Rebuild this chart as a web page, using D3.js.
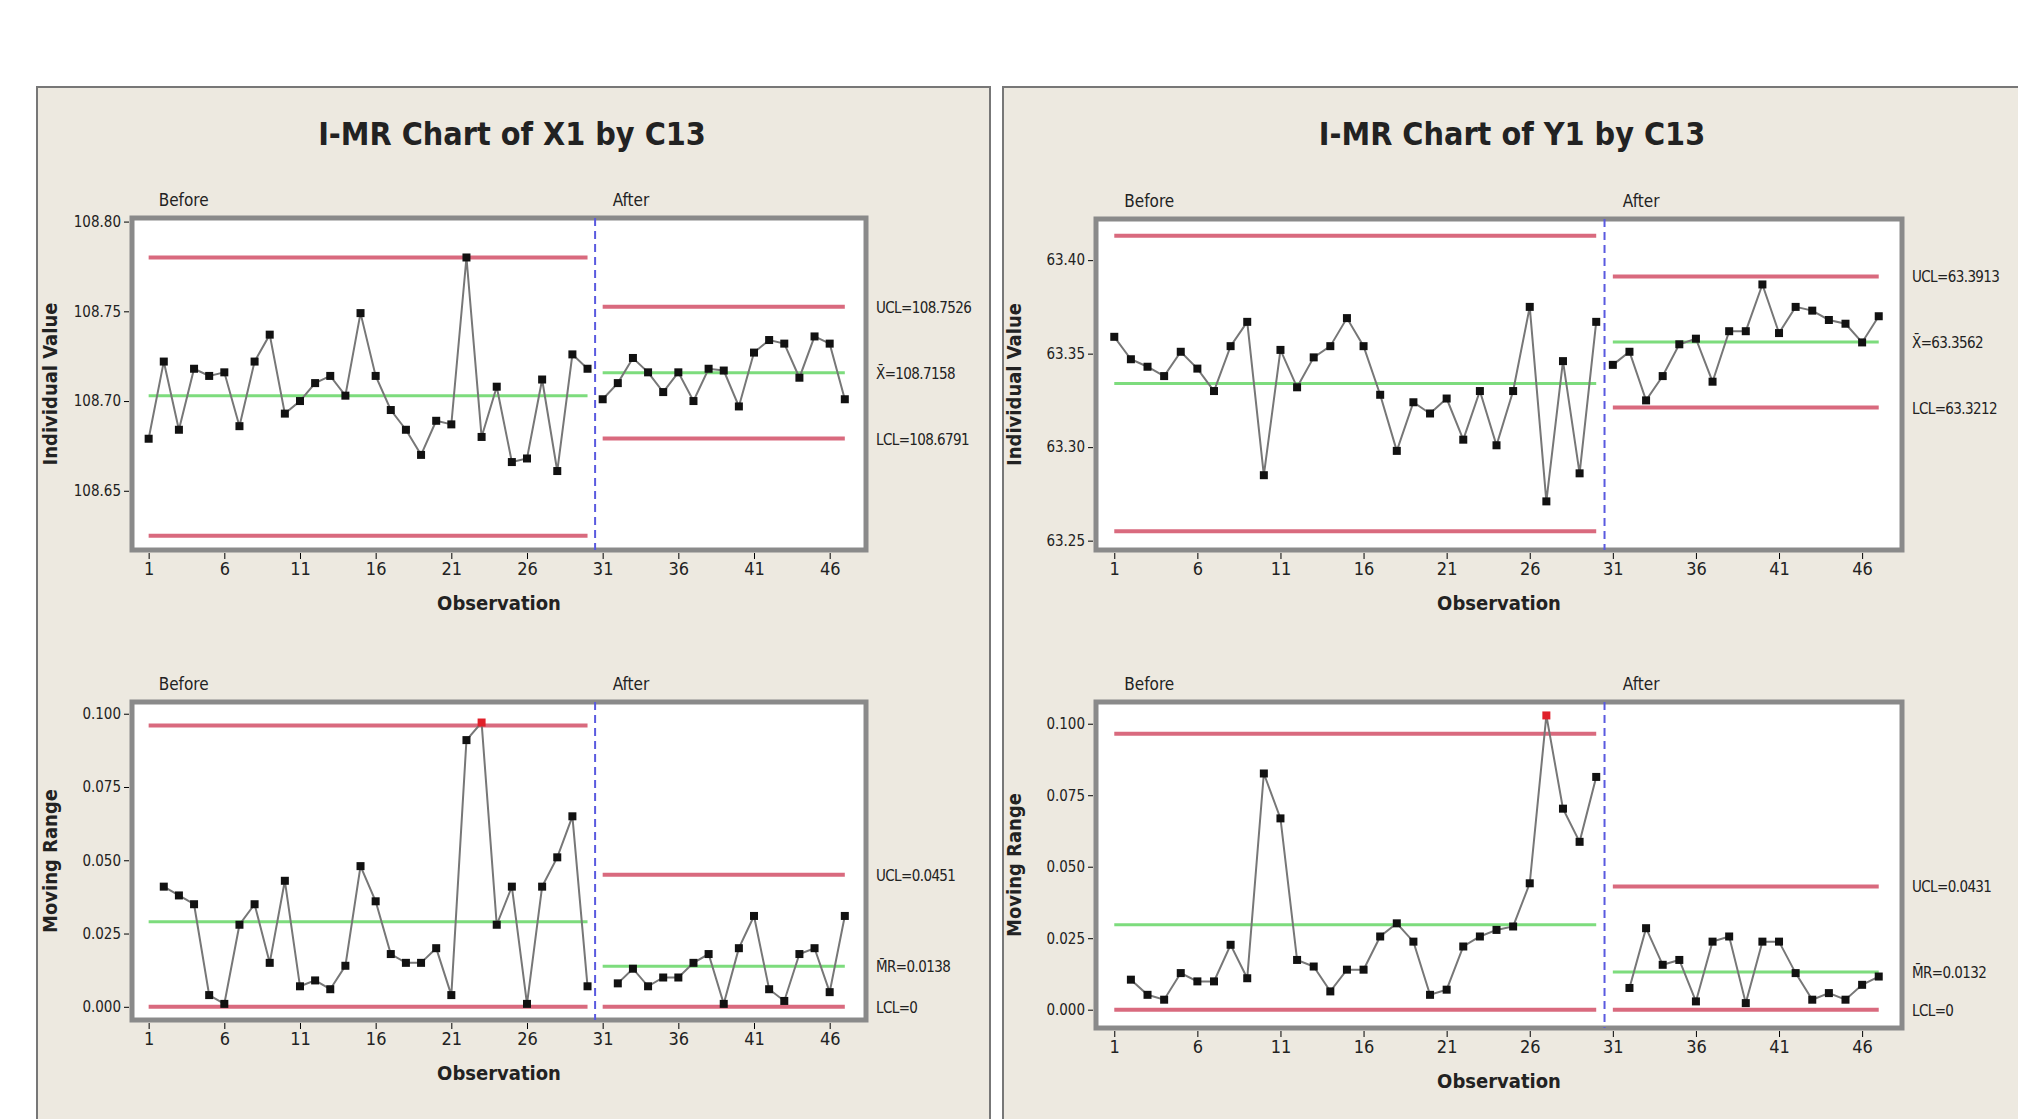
<!DOCTYPE html>
<html>
<head>
<meta charset="utf-8">
<script src="https://cdn.jsdelivr.net/npm/d3@7"></script>
<style>
  body { margin: 0; background: #fff; }
  text { font-family: "Liberation Sans Narrow", "DejaVu Sans Condensed", "Liberation Sans", sans-serif; fill: #222; }
</style>
</head>
<body>
<script>
// observations 1..47, 'Before' = 1..30, 'After' = 31..47
const obs = d3.range(1, 48)
const split = 30

const x1Values = [108.679, 108.722, 108.684, 108.718, 108.714, 108.716, 108.686, 108.722, 108.737, 108.693,
    108.700, 108.710, 108.714, 108.703, 108.749, 108.714, 108.695, 108.684, 108.670, 108.689,
    108.687, 108.780, 108.680, 108.708, 108.666, 108.668, 108.712, 108.661, 108.726, 108.718,
    108.701, 108.710, 108.724, 108.716, 108.705, 108.716, 108.700, 108.718, 108.717, 108.697,
    108.727, 108.734, 108.732, 108.713, 108.736, 108.732, 108.701]
// moving ranges start at obs 2 (null for obs 1 and 31)
const x1Ranges = [null, 0.041, 0.038, 0.035, 0.004, 0.001, 0.028, 0.035, 0.015, 0.043,
    0.007, 0.009, 0.006, 0.014, 0.048, 0.036, 0.018, 0.015, 0.015, 0.020,
    0.004, 0.091, 0.097, 0.028, 0.041, 0.001, 0.041, 0.051, 0.065, 0.007,
    null, 0.008, 0.013, 0.007, 0.010, 0.010, 0.015, 0.018, 0.001, 0.020,
    0.031, 0.006, 0.002, 0.018, 0.020, 0.005, 0.031]
const y1Values = [63.359, 63.347, 63.343, 63.338, 63.351, 63.342, 63.330, 63.354, 63.367, 63.285,
    63.352, 63.332, 63.348, 63.354, 63.369, 63.354, 63.328, 63.298, 63.324, 63.318,
    63.326, 63.304, 63.330, 63.301, 63.330, 63.375, 63.271, 63.346, 63.286, 63.367,
    63.344, 63.351, 63.325, 63.338, 63.355, 63.358, 63.335, 63.362, 63.362, 63.387,
    63.361, 63.375, 63.373, 63.368, 63.366, 63.356, 63.370]
const y1Ranges = [null, 0.0105, 0.0052, 0.0035, 0.0128, 0.0099, 0.0099, 0.0227, 0.011, 0.0826,
    0.0669, 0.0174, 0.0151, 0.0064, 0.014, 0.014, 0.0256, 0.0302, 0.0238, 0.0052,
    0.007, 0.0221, 0.0256, 0.0279, 0.0291, 0.0442, 0.1029, 0.0703, 0.0587, 0.0814,
    null, 0.0076, 0.0285, 0.0157, 0.0174, 0.0029, 0.0238, 0.0256, 0.0023, 0.0238,
    0.0238, 0.0128, 0.0035, 0.0058, 0.0035, 0.0087, 0.0116]

// control limits [LCL, CL, UCL] per stage
const x1Limits = {before: [108.625, 108.703, 108.780], after: [108.6791, 108.7158, 108.7526]}
const x1RangeLimits = {before: [0, 0.029, 0.096], after: [0, 0.0138, 0.0451]}
const y1Limits = {before: [63.255, 63.334, 63.413], after: [63.3212, 63.3562, 63.3913]}
const y1RangeLimits = {before: [0, 0.0297, 0.0965], after: [0, 0.0132, 0.0431]}

const x1Labels = ["UCL=108.7526", "X̄=108.7158", "LCL=108.6791"]
const x1RangeLabels = ["UCL=0.0451", "M̄R=0.0138", "LCL=0"]
const y1Labels = ["UCL=63.3913", "X̄=63.3562", "LCL=63.3212"]
const y1RangeLabels = ["UCL=0.0431", "M̄R=0.0132", "LCL=0"]

const xTicks = [1, 6, 11, 16, 21, 26, 31, 36, 41, 46]

const svg = d3.select("body").append("svg")
    .attr("width", 2018)
    .attr("height", 1119)

// panels
svg.append("rect").attr("x", 37).attr("y", 87).attr("width", 953).attr("height", 1040)
    .attr("fill", "#ede9e0").attr("stroke", "#777").attr("stroke-width", 2)
svg.append("rect").attr("x", 1003).attr("y", 87).attr("width", 1030).attr("height", 1040)
    .attr("fill", "#ede9e0").attr("stroke", "#777").attr("stroke-width", 2)

svg.append("text").attr("x", 512).attr("y", 145).attr("text-anchor", "middle")
    .attr("font-size", 32).attr("font-weight", "bold").text("I-MR Chart of X1 by C13")
svg.append("text").attr("x", 1512).attr("y", 145).attr("text-anchor", "middle")
    .attr("font-size", 32).attr("font-weight", "bold").text("I-MR Chart of Y1 by C13")

function drawChart(box, values, limits, labels, yDomain, yTicks, yFormat, yTitle) {
    const x = d3.scaleLinear().domain([-0.1, 48.4]).range([box.left, box.right])
    const y = d3.scaleLinear().domain(yDomain).range([box.bottom, box.top])
    const g = svg.append("g")

    g.append("rect").attr("x", box.left).attr("y", box.top)
        .attr("width", box.right - box.left).attr("height", box.bottom - box.top)
        .attr("fill", "#fff").attr("stroke", "#8a8a8a").attr("stroke-width", 5)

    const stages = [
        {key: "before", from: 1, to: split, name: "Before"},
        {key: "after", from: split + 1, to: 47, name: "After"}
    ]
    stages.forEach((s) => {
        limits[s.key].forEach((v, i) => {
            g.append("line")
                .attr("x1", x(s.from)).attr("x2", x(s.to))
                .attr("y1", y(v)).attr("y2", y(v))
                .attr("stroke", i === 1 ? "#7ddc7d" : "#d96a7e")
                .attr("stroke-width", i === 1 ? 3 : 4)
        })
        g.append("text").attr("x", x(s.from) + 10)
            .attr("y", box.top - 12).attr("font-size", 17).text(s.name)
    })

    g.append("line")
        .attr("x1", x(split + 0.5)).attr("x2", x(split + 0.5))
        .attr("y1", box.top).attr("y2", box.bottom)
        .attr("stroke", "#5a5adf").attr("stroke-width", 2).attr("stroke-dasharray", "8,5")

    const pts = obs.map((o, i) => ({o, v: values[i]}))
    const line = d3.line().x((d) => x(d.o)).y((d) => y(d.v))
    stages.forEach((s) => {
        g.append("path")
            .datum(pts.filter((d) => d.o >= s.from && d.o <= s.to && d.v !== null))
            .attr("d", line).attr("fill", "none").attr("stroke", "#777").attr("stroke-width", 2)
    })

    g.selectAll(".pt").data(pts.filter((d) => d.v !== null)).enter().append("rect")
        .attr("x", (d) => x(d.o) - 4).attr("y", (d) => y(d.v) - 4)
        .attr("width", 8).attr("height", 8)
        .attr("fill", (d) => {
            const lim = d.o <= split ? limits.before : limits.after
            return (d.v > lim[2] || d.v < lim[0]) ? "#e0202a" : "#111"
        })

    // limit labels for the last stage
    limits.after.slice().reverse().forEach((v, i) => {
        g.append("text").attr("x", box.right + 10).attr("y", y(v) + 6)
            .attr("font-size", 15).attr("letter-spacing", -0.6).text(labels[i])
    })

    const yAxis = g.append("g").attr("transform", `translate(${box.left - 3},0)`)
        .call(d3.axisLeft(y).tickValues(yTicks).tickFormat(d3.format(yFormat)).tickSize(5))
    yAxis.select(".domain").remove()
    yAxis.selectAll("text").attr("font-size", 15)

    const xAxis = g.append("g").attr("transform", `translate(0,${box.bottom + 3})`)
        .call(d3.axisBottom(x).tickValues(xTicks).tickSize(6))
    xAxis.select(".domain").remove()
    xAxis.selectAll("text").attr("font-size", 18)

    g.append("text").attr("x", (box.left + box.right) / 2).attr("y", box.bottom + 60)
        .attr("text-anchor", "middle").attr("font-size", 20).attr("font-weight", "bold").text("Observation")
    g.append("text")
        .attr("transform", `translate(${box.left - 75},${(box.top + box.bottom) / 2})rotate(-90)`)
        .attr("text-anchor", "middle").attr("font-size", 20).attr("font-weight", "bold").text(yTitle)
}

drawChart({left: 132, right: 866, top: 218, bottom: 550}, x1Values, x1Limits, x1Labels,
    [108.617, 108.802], [108.65, 108.70, 108.75, 108.80], ".2f", "Individual Value")
drawChart({left: 132, right: 866, top: 702, bottom: 1020}, x1Ranges, x1RangeLimits, x1RangeLabels,
    [-0.0045, 0.104], [0, 0.025, 0.05, 0.075, 0.1], ".3f", "Moving Range")
drawChart({left: 1096, right: 1902, top: 219, bottom: 550}, y1Values, y1Limits, y1Labels,
    [63.245, 63.422], [63.25, 63.30, 63.35, 63.40], ".2f", "Individual Value")
drawChart({left: 1096, right: 1902, top: 702, bottom: 1028}, y1Ranges, y1RangeLimits, y1RangeLabels,
    [-0.0064, 0.1076], [0, 0.025, 0.05, 0.075, 0.1], ".3f", "Moving Range")
</script>
</body>
</html>
